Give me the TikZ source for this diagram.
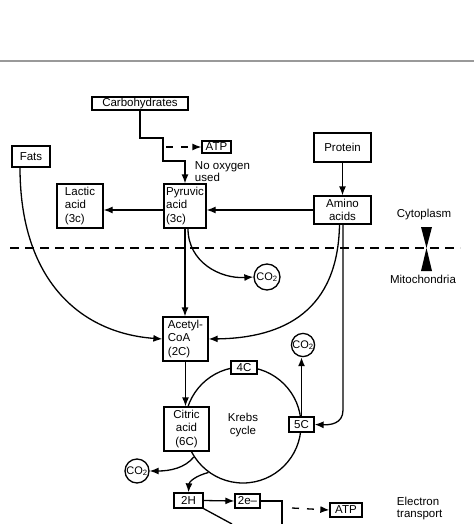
\documentclass[tikz,border=0pt]{standalone}
\usepackage{fontspec}
\setmainfont{Liberation Sans}
\usetikzlibrary{calc, arrows.meta}

\begin{document}
\begin{tikzpicture}[x=1pt, y=-1pt, line width=1.3pt,
  font=\fontsize{11.5}{13.5}\selectfont,
  box/.style={draw, fill=white, inner sep=1pt, align=left},
  gas/.style={draw, circle, fill=white, inner sep=0pt, font=\fontsize{11}{12}\selectfont},
  arr/.style={-{Latex[length=9pt, width=7pt]}},
  dasharr/.style={arr, dash pattern=on 7pt off 8pt}]
  \useasboundingbox (0,0) rectangle (474,524);
  \draw[gray!80, line width=1.5pt] (0,61) -- (474,61);

  % cell boundary
  \draw[dash pattern=on 9pt off 6pt] (10,248) -- (460,248);
  \fill (421,227) -- (432,227) -- (426.5,248) -- cycle;
  \fill (421,271) -- (432,271) -- (426.5,248) -- cycle;
  \node (cyto) at (424,215) {Cytoplasm};
  \node (mito) at (423,279) {Mitochondria};

  \node[draw, circle, minimum size=116pt, inner sep=0pt, align=center] (krebs) at (243,425) {Krebs\\cycle};

  \node[box, minimum width=96pt, minimum height=13pt] (carbo) at (140,103.5) {Carbohydrates};
  \node[box, minimum width=29pt, minimum height=12pt] (atp1) at (216.5,147) {ATP};
  \node[anchor=west, align=left, font=\fontsize{11.5}{12}\selectfont] (nooxygen) at (191,172) {No oxygen\\used};
  \node[box, minimum width=38pt, minimum height=21pt] (fats) at (31,156.5) {Fats};
  \node[box, minimum width=46pt, minimum height=44pt] (lactic) at (80,206) {Lactic\\acid\\(3c)};
  \node[box, minimum width=42pt, minimum height=44pt] (pyruvic) at (185,206) {Pyruvic\\acid\\(3c)};
  \node[box, minimum width=57pt, minimum height=29pt] (protein) at (342.5,147.5) {Protein};
  \node[box, align=center, minimum width=57pt, minimum height=28pt] (amino) at (342.5,210) {Amino\\acids};
  \node[box, minimum width=45pt, minimum height=44pt] (acetyl) at (185.5,339) {Acetyl-\\CoA\\(2C)};
  \node[box, align=center, minimum width=45pt, minimum height=44pt] (citric) at (186.5,429) {Citric\\acid\\(6C)};
  \node[box, minimum width=26pt, minimum height=13pt] (c4) at (244,367.5) {4C};
  \node[box, minimum width=25pt, minimum height=15pt] (c5) at (301.5,424.5) {5C};
  \node[gas, minimum size=26pt] (co2a) at (267,277) {CO\textsubscript{2}};
  \node[gas, minimum size=23pt] (co2b) at (303,345) {CO\textsubscript{2}};
  \node[gas, minimum size=24pt] (co2c) at (137,471) {CO\textsubscript{2}};
  \node[box, minimum width=29pt, minimum height=15pt] (h2) at (188.5,500.5) {2H};
  \node[box, minimum width=25pt, minimum height=14pt] (e2) at (247.5,501) {2e--};
  \node[box, minimum width=32pt, minimum height=14pt] (atp2) at (346,510) {ATP};
  \node[anchor=west, align=left, font=\fontsize{11.5}{12}\selectfont] (etrans) at (393,509) {Electron\\transport};

  \coordinate (glyco) at (166,147);
  \coordinate (etc) at (292,508);
  \coordinate (out1) at (282,524);
  \coordinate (out2) at (232,524);

  \draw[arr] (carbo.south) -- (140,138) -| (163,161) -| (pyruvic.north);
  \draw[dasharr] (glyco) -- (atp1.west);
  \draw[arr] (pyruvic.west |- amino.west) -- (lactic.east |- amino.west);
  \draw[arr] (amino.west) -- (pyruvic.east |- amino.west);
  \draw[arr] (protein) -- (amino);
  \draw[arr] (pyruvic.south) -- (pyruvic.south |- acetyl.north);
  \draw[arr] ($(pyruvic.south)+(3,0)$) .. controls (188,262) and (220,279) .. (co2a.west);
  \draw[arr] ($(fats.south)+(-11,0)$) .. controls (20,280) and (80,333) .. (acetyl.west);
  \draw[arr] ($(amino.south)+(-3,0)$) .. controls (338,310) and (285,338) .. (acetyl.east);
  \draw[arr] ($(amino.south)+(0.5,0)$) -- (343,410) .. controls (343,424) and (330,425) .. (c5.east);
  \draw[arr] (c5.north) -- (c5.north |- co2b.south);
  \draw[arr] (acetyl.south) -- (acetyl.south |- citric.north);
  \draw[arr] (krebs.213) .. controls (185,468) and (170,471) .. (co2c.east);
  \draw[arr] (krebs.234) .. controls (195,476) and (189,482) .. (h2.north);
  \draw[arr] (h2.east) -- (e2.west);
  \draw (e2.east) -| (out1);
  \draw (h2.south east) -- (out2);
  \draw[dasharr] (etc) -- (atp2.west);
\end{tikzpicture}
\end{document}
